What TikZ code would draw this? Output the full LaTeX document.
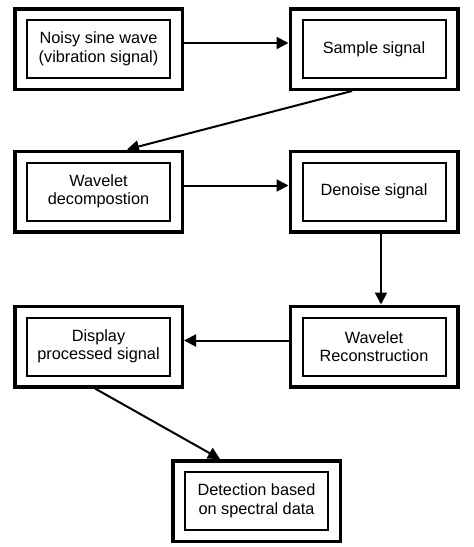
\documentclass[tikz,border=0pt]{standalone}
\usepackage{fontspec}
\setmainfont{Liberation Sans}
\usetikzlibrary{arrows.meta}

\begin{document}
\begin{tikzpicture}[
        x=1pt, y=-1pt,
        frame/.style={draw, line width=3.5pt, minimum width=167.5pt, minimum height=80.5pt, inner sep=0pt},
        textbox/.style={draw, line width=2pt, minimum width=143pt, minimum height=58pt, inner sep=0pt,
            align=center, font=\fontsize{16.3}{18.5}\selectfont},
        flow/.style={line width=2pt, -{Triangle[length=12pt, width=12pt]}}
    ]
        \useasboundingbox (0,0) rectangle (474,547);

        \foreach \n/\x/\y/\t in {
            noisy/98.5/49/{Noisy sine wave\\(vibration signal)},
            sample/374/49/{Sample signal},
            decomp/98.5/191.5/{Wavelet\\decompostion},
            denoise/374/191.5/{Denoise signal},
            display/98.5/346.5/{Display\\processed signal},
            recon/374/346.5/{Wavelet\\Reconstruction},
            detect/256.5/501/{Detection based\\on spectral data}} {
            \node[frame] (\n) at (\x,\y) {};
            \node[textbox] (\n-in) at (\x,\y) {\t};
        }

        \draw[flow] ([yshift=6pt]noisy.east) -- ([yshift=6pt]sample.west);
        \draw[flow] ([xshift=-22pt]sample.south) -- ([xshift=28.5pt]decomp.north);
        \draw[flow] ([yshift=6pt]decomp.east) -- ([yshift=6pt]denoise.west);
        \draw[flow] ([xshift=7pt]denoise.south) -- ([xshift=7pt]recon.north);
        \draw[flow] ([yshift=6pt]recon.west) -- ([yshift=6pt]display.east);
        \draw[flow] ([xshift=-3.5pt]display.south) -- ([xshift=-36.5pt]detect.north);
    \end{tikzpicture}
\end{document}
